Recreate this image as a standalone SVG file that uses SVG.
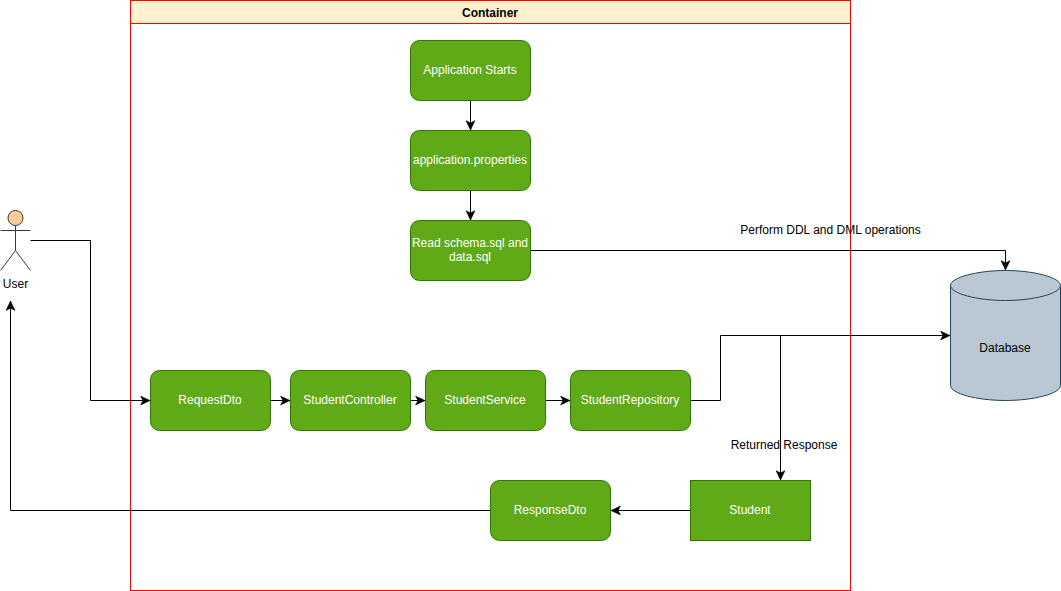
<svg xmlns="http://www.w3.org/2000/svg" width="1061" height="591" viewBox="0 0 1061 591">
<style>
text{font-family:"Liberation Sans",Arial,sans-serif;font-size:12px;text-anchor:middle;fill:#000}
.g{fill:#60a917;stroke:#2d7600;stroke-width:1}
.w{fill:#fff}
.c{fill:none;stroke:#000;stroke-width:1}
.a{marker-end:url(#arr)}
.u{fill:none;stroke:#36393d;stroke-width:1}
</style>
<defs>
<marker id="arr" markerUnits="userSpaceOnUse" markerWidth="10" markerHeight="10" refX="8" refY="4" orient="auto" viewBox="0 0 8 8">
<path d="M0.5 0.5L8 4L0.5 7.5L2.4 4Z" fill="#000" stroke="#000" stroke-width="0.5"/>
</marker>
</defs>
<rect width="1061" height="591" fill="#fff"/>
<g id="container">
<rect x="130.500" y="0.500" width="720" height="590" fill="none" stroke="#ff0000"/>
<rect x="130.500" y="0.500" width="720" height="23" fill="#fff2cc" stroke="#ff0000"/>
<text x="490" y="17" font-weight="bold">Container</text>
</g>
<g id="connectors">
<path class="c a" d="M470.500 100.500V130"/>
<path class="c a" d="M470.500 190.500V220"/>
<path class="c a" d="M530.500 250.500H1005.500V270"/>
<path class="c a" d="M30.500 240.500H90.500V400.500H150"/>
<path class="c a" d="M270.500 400.500H290"/>
<path class="c a" d="M410.500 400.500H425"/>
<path class="c a" d="M545.500 400.500H570"/>
<path class="c a" d="M690.500 400.500H720.500V335.500H950"/>
<path class="c a" d="M780.500 335.500V480"/>
<path class="c a" d="M690.500 510.500H611"/>
<path class="c a" d="M490.500 510.500H10.500V301"/>
<text x="830.500" y="233.500">Perform DDL and DML operations</text>
<text x="784" y="448.500">Returned Response</text>
</g>
<g id="user">
<circle cx="15.500" cy="218" r="7.500" fill="#ffcc99" stroke="#36393d"/>
<path class="u" d="M15.500 225.500V250.500M0.500 230.500H30.500M15.500 250.500L0.500 270.500M15.500 250.500L30.500 270.500"/>
<text x="15.500" y="288">User</text>
</g>
<g id="application-starts"><rect class="g" x="410.500" y="40.500" width="120" height="60" rx="9"/><text class="w" x="470" y="74">Application Starts</text></g>
<g id="application-properties"><rect class="g" x="410.500" y="130.500" width="120" height="60" rx="9"/><text class="w" x="470" y="164">application.properties</text></g>
<g id="read-schema"><rect class="g" x="410.500" y="220.500" width="120" height="60" rx="9"/><text class="w" x="470" y="247">Read schema.sql and</text><text class="w" x="470" y="261">data.sql</text></g>
<g id="request-dto"><rect class="g" x="150.500" y="370.500" width="120" height="60" rx="9"/><text class="w" x="210" y="404">RequestDto</text></g>
<g id="student-controller"><rect class="g" x="290.500" y="370.500" width="120" height="60" rx="9"/><text class="w" x="350" y="404">StudentController</text></g>
<g id="student-service"><rect class="g" x="425.500" y="370.500" width="120" height="60" rx="9"/><text class="w" x="485" y="404">StudentService</text></g>
<g id="student-repository"><rect class="g" x="570.500" y="370.500" width="120" height="60" rx="9"/><text class="w" x="630" y="404">StudentRepository</text></g>
<g id="response-dto"><rect class="g" x="490.500" y="480.500" width="120" height="60" rx="9"/><text class="w" x="550" y="514">ResponseDto</text></g>
<g id="student"><rect class="g" x="690.500" y="480.500" width="120" height="60"/><text class="w" x="750" y="514">Student</text></g>
<g id="database">
<path d="M950.500 285.500C950.500 277.500 977 270.500 1005.500 270.500C1034 270.500 1060.500 277.500 1060.500 285.500V385.500C1060.500 393.500 1034 400.500 1005.500 400.500C977 400.500 950.500 393.500 950.500 385.500Z" fill="#bac8d3" stroke="#23445d"/>
<path d="M950.500 285.500C950.500 293.500 977 300.500 1005.500 300.500C1034 300.500 1060.500 293.500 1060.500 285.500" fill="none" stroke="#23445d"/>
<text x="1005" y="352">Database</text>
</g>
</svg>
